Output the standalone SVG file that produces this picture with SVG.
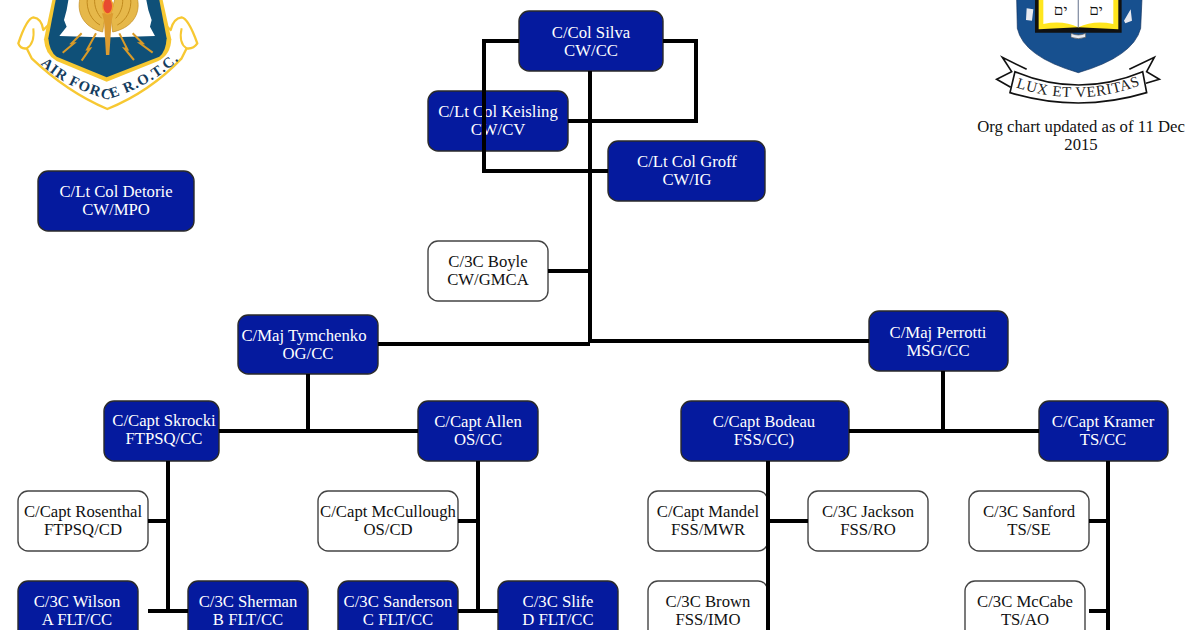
<svg xmlns="http://www.w3.org/2000/svg" width="1200" height="630" viewBox="0 0 1200 630">
<style>
.n rect{stroke:#2a2a2a;stroke-width:1.4}
.b rect{fill:#051a9e}
.w rect{fill:#fff;stroke:#444}
text{font-family:"Liberation Serif","DejaVu Serif",serif;font-size:16.7px;text-anchor:middle}
.b text{fill:#fff}
.w text,.t{fill:#111}
#conn path{fill:none;stroke:#000;stroke-width:4}
</style>
<rect width="1200" height="630" fill="#fff"/>
<g id="logo-afrotc" transform="scale(.3333)">
<path d="M100 52Q80 55 55 130Q62 148 80 145L95 175Q200 275 322 327Q450 275 545 175L560 145Q580 148 592 130Q565 55 545 52Q520 55 512 90L480 60H160L130 90Q125 55 100 52Z" fill="#fff" stroke="#f7c832" stroke-width="7" stroke-linejoin="round"/>
<path d="M80 145Q105 130 100 85M560 145Q535 130 545 85" fill="none" stroke="#f7c832" stroke-width="6"/>
<path d="M158 -5L132 118Q135 165 170 183L320 245L475 183Q512 165 514 118L487 -5Z" fill="#f7c832"/>
<path d="M168 -5L145 115Q148 155 170 170L320 232L478 170Q498 155 500 115L477 -5Z" fill="#0f5078"/>
<path d="M206 -5L200 30L192 60L200 80L178 108L300 112L340 112L465 108L450 80L455 60L445 30L438 -5Z" fill="#fff"/>
<path d="M240 -5C228 45 258 85 308 96L316 45L305 -5ZM412 -5C424 45 392 85 338 96L332 45L345 -5Z" fill="#e6b84a" stroke="#c08a1e" stroke-width="2"/>
<path d="M262 -5C258 30 275 62 300 75M284 -5C282 20 292 42 305 55M392 -5C396 30 378 62 352 75M368 -5C370 20 360 42 347 55" fill="none" stroke="#c08a1e" stroke-width="3"/>
<path d="M306 40H340L335 62L328 165H318L312 62Z" fill="#dc9b30"/>
<ellipse cx="323" cy="18" rx="15" ry="24" fill="#e84a30" stroke="#f2a030" stroke-width="4"/>
<g fill="none" stroke="#d89a28" stroke-width="6">
<path d="M245 100L215 130L222 130L188 158"/>
<path d="M288 100L262 148L270 146L245 182"/>
<path d="M358 100L382 148L374 146L402 180"/>
<path d="M398 100L428 130L420 130L458 158"/>
</g>
<path id="afpath" d="M108 178Q180 258 322 298Q460 258 552 165" fill="none"/>
<text font-weight="bold" letter-spacing="3" fill="#143c5e" style="font-size:44px"><textPath href="#afpath" startOffset="50%">AIR FORCE R.O.T.C.</textPath></text>
</g>
<g id="logo-yale" transform="translate(970 0) scale(.3333)">
<path d="M140 -5L142 85Q160 170 325 218Q490 170 512 85L516 -5Z" fill="#17508f" stroke="#0e2f5c" stroke-width="2"/>
<path d="M170 25L190 28L186 62L168 60Z M462 62L482 28L486 62L466 70Z" fill="#e8eaf0"/>
<path d="M195 -5V98H325H455V-5Z" fill="#111"/>
<path d="M206 -5V88L325 82L445 88V-5Z" fill="#ffe61e"/>
<path d="M220 -5V72Q280 60 325 82Q370 60 430 72V-5Z" fill="#fff"/>
<path d="M325 -5V82" stroke="#8a94a8" stroke-width="4"/>
<path d="M303 100Q325 110 347 100V112Q325 120 303 112Z" fill="#e8eaf0" stroke="#555" stroke-width="2"/>
<text x="272" y="46" style="font-size:46px;font-family:'DejaVu Serif',serif" fill="#111">ים</text>
<text x="378" y="46" style="font-size:46px;font-family:'DejaVu Serif',serif" fill="#111">ים</text>
<path d="M135 215Q325 295 518 215L530 278Q325 340 120 278Z" fill="#fff" stroke="#111" stroke-width="5"/>
<path d="M170 208L97 172L125 215L80 238L122 262M478 208L553 172L530 215L568 238L528 250" fill="none" stroke="#111" stroke-width="5"/>
<path id="luxpath" d="M138 262Q325 325 512 255" fill="none"/>
<text fill="#222" letter-spacing="2" style="font-size:45px"><textPath href="#luxpath" startOffset="50%">LUX ET VERITAS</textPath></text>
</g>
<text class="t" x="1081" y="132">Org chart updated as of 11 Dec</text>
<text class="t" x="1081" y="150">2015</text>

<g id="silva" class="n b"><rect x="519" y="11" width="144" height="60" rx="10"/><text x="591" y="38">C/Col Silva</text><text x="591" y="56">CW/CC</text></g>
<g id="keisling" class="n b"><rect x="428" y="91" width="140" height="60" rx="10"/><text x="498" y="117">C/Lt Col Keisling</text><text x="498" y="135">CW/CV</text></g>
<g id="groff" class="n b"><rect x="608" y="141" width="157" height="60" rx="10"/><text x="687" y="167">C/Lt Col Groff</text><text x="687" y="185">CW/IG</text></g>
<g id="detorie" class="n b"><rect x="38" y="171" width="156" height="60" rx="10"/><text x="116" y="197">C/Lt Col Detorie</text><text x="116" y="215">CW/MPO</text></g>
<g id="boyle" class="n w"><rect x="428" y="241" width="120" height="60" rx="10"/><text x="488" y="267">C/3C Boyle</text><text x="488" y="285">CW/GMCA</text></g>
<g id="tymchenko" class="n b"><rect x="238" y="315" width="140" height="59" rx="10"/><text x="304" y="341">C/Maj Tymchenko</text><text x="308" y="359">OG/CC</text></g>
<g id="perrotti" class="n b"><rect x="869" y="311" width="139" height="60" rx="10"/><text x="938" y="338">C/Maj Perrotti</text><text x="938" y="356">MSG/CC</text></g>
<g id="skrocki" class="n b"><rect x="104" y="401" width="115" height="60" rx="10"/><text x="164" y="426">C/Capt Skrocki</text><text x="164" y="444">FTPSQ/CC</text></g>
<g id="allen" class="n b"><rect x="418" y="401" width="120" height="60" rx="10"/><text x="478" y="427">C/Capt Allen</text><text x="478" y="445">OS/CC</text></g>
<g id="bodeau" class="n b"><rect x="681" y="401" width="168" height="60" rx="10"/><text x="764" y="427">C/Capt Bodeau</text><text x="764" y="445">FSS/CC)</text></g>
<g id="kramer" class="n b"><rect x="1039" y="401" width="129" height="60" rx="10"/><text x="1103" y="427">C/Capt Kramer</text><text x="1103" y="445">TS/CC</text></g>
<g id="rosenthal" class="n w"><rect x="18" y="491" width="130" height="60" rx="10"/><text x="83" y="517">C/Capt Rosenthal</text><text x="83" y="535">FTPSQ/CD</text></g>
<g id="mccullough" class="n w"><rect x="318" y="491" width="140" height="60" rx="10"/><text x="388" y="517">C/Capt McCullough</text><text x="388" y="535">OS/CD</text></g>
<g id="mandel" class="n w"><rect x="648" y="491" width="120" height="60" rx="10"/><text x="708" y="517">C/Capt Mandel</text><text x="708" y="535">FSS/MWR</text></g>
<g id="jackson" class="n w"><rect x="808" y="491" width="120" height="60" rx="10"/><text x="868" y="517">C/3C Jackson</text><text x="868" y="535">FSS/RO</text></g>
<g id="sanford" class="n w"><rect x="969" y="491" width="120" height="60" rx="10"/><text x="1029" y="517">C/3C Sanford</text><text x="1029" y="535">TS/SE</text></g>
<g id="wilson" class="n b"><rect x="18" y="581" width="120" height="60" rx="10"/><text x="77" y="607">C/3C Wilson</text><text x="77" y="625">A FLT/CC</text></g>
<g id="sherman" class="n b"><rect x="188" y="581" width="120" height="60" rx="10"/><text x="248" y="607">C/3C Sherman</text><text x="248" y="625">B FLT/CC</text></g>
<g id="sanderson" class="n b"><rect x="338" y="581" width="120" height="60" rx="10"/><text x="398" y="607">C/3C Sanderson</text><text x="398" y="625">C FLT/CC</text></g>
<g id="slife" class="n b"><rect x="498" y="581" width="120" height="60" rx="10"/><text x="558" y="607">C/3C Slife</text><text x="558" y="625">D FLT/CC</text></g>
<g id="brown" class="n w"><rect x="648" y="581" width="120" height="60" rx="10"/><text x="708" y="607">C/3C Brown</text><text x="708" y="625">FSS/IMO</text></g>
<g id="mccabe" class="n w"><rect x="965" y="581" width="120" height="60" rx="10"/><text x="1025" y="607">C/3C McCabe</text><text x="1025" y="625">TS/AO</text></g>

<g id="conn">
<path d="M519 41H484V171H608"/>
<path d="M663 41H696V121H568"/>
<path d="M590 71V343"/>
<path d="M548 271H590"/>
<path d="M378 344H590"/>
<path d="M590 341H869"/>
<path d="M308 374V431"/>
<path d="M219 431H418"/>
<path d="M168 461V611"/>
<path d="M148 521H168"/>
<path d="M148 611H188"/>
<path d="M478 461V611"/>
<path d="M458 521H478"/>
<path d="M458 611H498"/>
<path d="M943 371V431"/>
<path d="M849 431H1039"/>
<path d="M768 461V630"/>
<path d="M768 521H808"/>
<path d="M1108 461V630"/>
<path d="M1089 521H1108"/>
<path d="M1089 611H1108"/>
</g>
</svg>
